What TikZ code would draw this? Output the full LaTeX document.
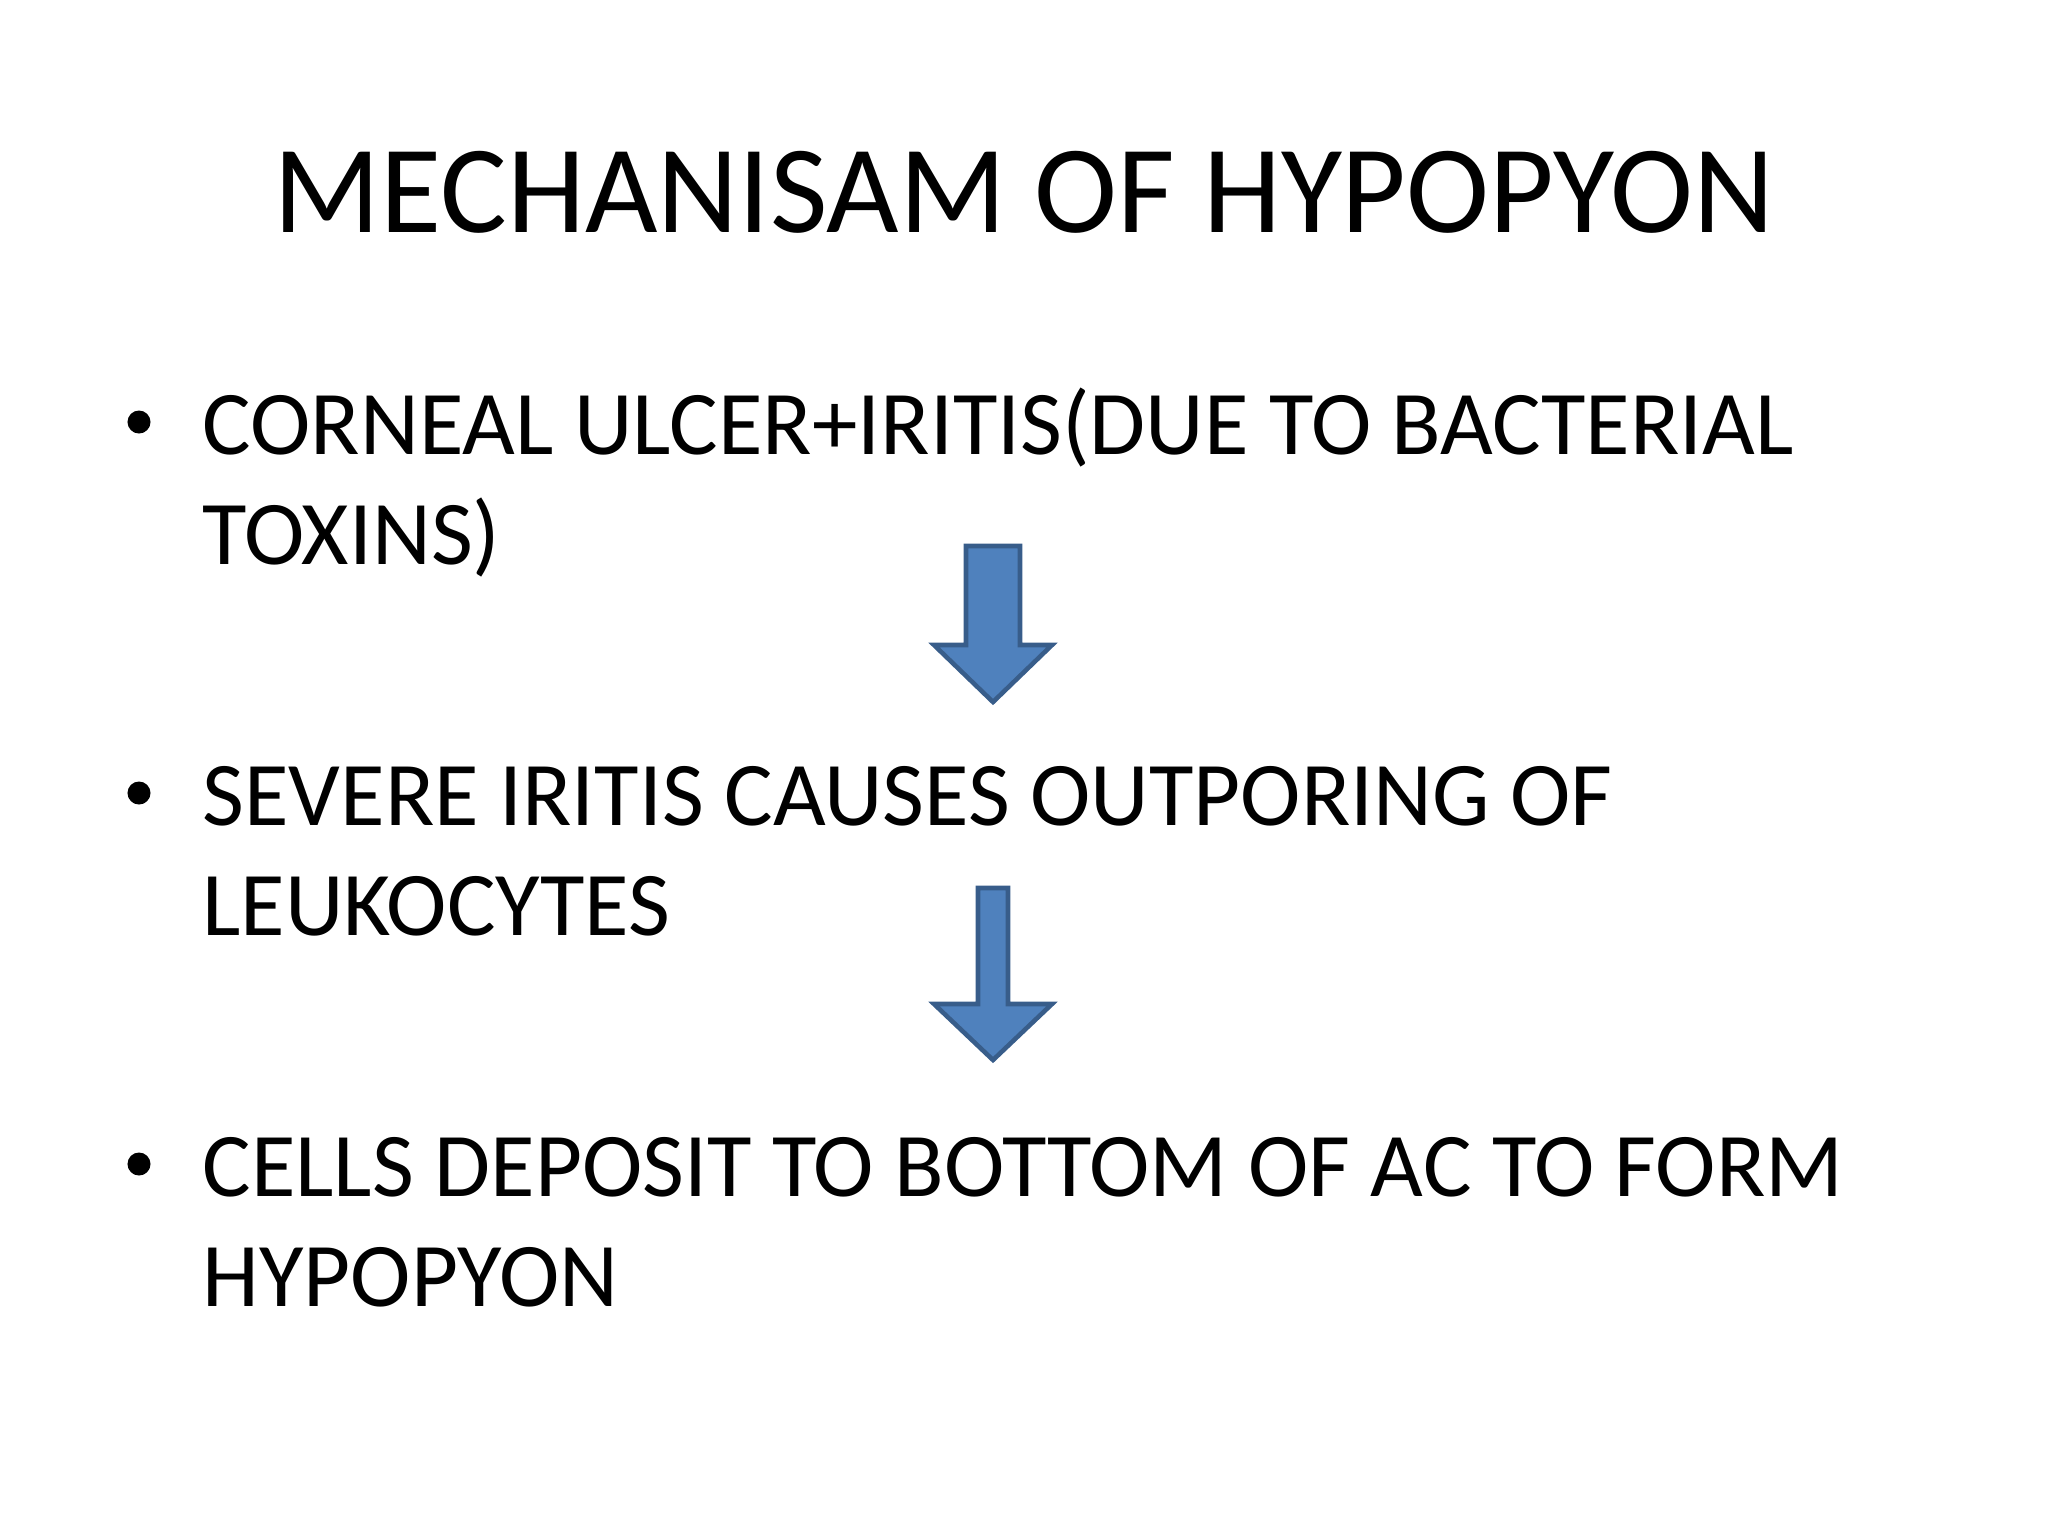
\documentclass[tikz,border=0pt]{standalone}
\usepackage{fontspec}
\setmainfont{Carlito}
\usepackage{tikz}

\definecolor{arrowfill}{HTML}{4F81BD}
\definecolor{arrowline}{HTML}{385D8A}

\begin{document}
\begin{tikzpicture}[x=0.01cm,y=-0.01cm]
\tikzset{title/.style={font=\fontsize{35.6}{42}\selectfont, anchor=base, inner sep=0pt},
  line/.style={font=\fontsize{25.9}{31}\selectfont, anchor=base west, inner sep=0pt},
  dot/.style={circle, fill=black, inner sep=0pt, minimum size=0.23cm},
  blockarrow/.style={fill=arrowfill, draw=arrowline, line width=1.3pt, line join=miter}}
\useasboundingbox (0,0) rectangle (2048,1536);
\node [title] (t) at (1024,232) {MECHANISAM OF HYPOPYON};
% first point
\node [dot] (b1) at (139,422) {};
\node [line] (l1) at (202,454) {CORNEAL ULCER+IRITIS(DUE TO BACTERIAL};
\node [line] (l2) at (202,564) {TOXINS)};
% second point
\node [dot] (b2) at (139,793) {};
\node [line] (l3) at (202,825) {SEVERE IRITIS CAUSES OUTPORING OF};
\node [line] (l4) at (202,935) {LEUKOCYTES};
% third point
\node [dot] (b3) at (139,1164) {};
\node [line] (l5) at (202,1196) {CELLS DEPOSIT TO BOTTOM OF AC TO FORM};
\node [line] (l6) at (202,1306) {HYPOPYON};
% arrows
\draw [blockarrow] (966,546) -- (1020,546) -- (1020,645) -- (1052,645) -- (993,702)
  -- (934,645) -- (966,645) -- cycle;
\draw [blockarrow] (978,888) -- (1008,888) -- (1008,1004) -- (1052,1004) -- (993,1060)
  -- (934,1004) -- (978,1004) -- cycle;
\end{tikzpicture}
\end{document}
